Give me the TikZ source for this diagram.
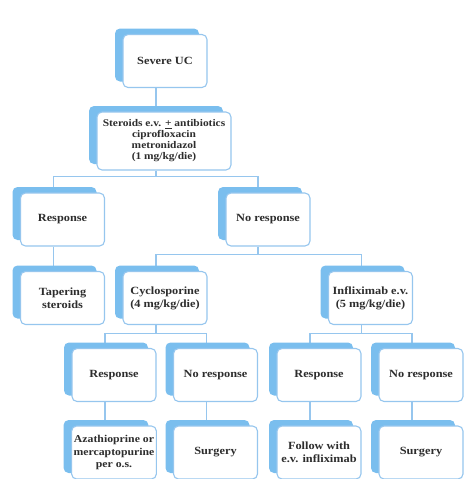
\documentclass[tikz,border=0pt]{standalone}
\usepackage{fontspec}
\setmainfont{Liberation Serif}[FakeStretch=1.12]
\usetikzlibrary{shadows,backgrounds}

\definecolor{ucback}{RGB}{122,190,238}
\definecolor{ucedge}{RGB}{150,198,238}
\definecolor{uctext}{RGB}{45,45,45}

\tikzset{
    ucbox/.style={draw=ucedge, line width=1.1pt, fill=white, rounded corners=5pt,
        minimum width=84pt, minimum height=53pt, align=center, inner sep=2pt,
        text=uctext, font=\bfseries\fontsize{11}{13}\selectfont,
        copy shadow={shadow xshift=-8pt, shadow yshift=6pt, fill=ucback, draw=none}},
    uclink/.style={draw=ucedge, line width=1.1pt}
}

\begin{document}
\begin{tikzpicture}[x=1pt, y=-1pt]
    % Frame
    \useasboundingbox (0,0) rectangle (474,479);
    \clip (0,0) rectangle (474,479);

    % Top
    \node[ucbox] (severe) at (165,61) {Severe UC};
    \node[ucbox, minimum width=134pt, minimum height=58pt, font=\bfseries\fontsize{10.2}{11}\selectfont] (steroids) at (164,141)
        {Steroids e.v. \underline{+} antibiotics\\ ciprofloxacin\\ metronidazol\\ (1 mg/kg/die)};

    % First answer
    \node[ucbox] (resp) at (62.5,219.5) {Response};
    \node[ucbox] (noresp) at (268,219.5) {No response};

    % Second line
    \node[ucbox] (taper) at (62.5,298) {Tapering\\ steroids};
    \node[ucbox] (cyclo) at (165,298) {Cyclosporine\\ (4 mg/kg/die)};
    \node[ucbox] (inflix) at (370.5,298) {Infliximab e.v.\\ (5 mg/kg/die)};

    % Answers to cyclosporine and infliximab
    \node[ucbox] (cycresp) at (114,375) {Response};
    \node[ucbox] (cycnoresp) at (215.5,375) {No response};
    \node[ucbox] (infresp) at (319,375) {Response};
    \node[ucbox] (infnoresp) at (421,375) {No response};

    % Last line
    \node[ucbox, font=\bfseries\fontsize{10.5}{12.5}\selectfont] (aza) at (114,452.5) {Azathioprine or\\ mercaptopurine\\ per o.s.};
    \node[ucbox] (surg1) at (215.5,452.5) {Surgery};
    \node[ucbox] (follow) at (319,452.5) {Follow with\\ e.v. infliximab};
    \node[ucbox] (surg2) at (421,452.5) {Surgery};

    % Connecting lines
    \begin{scope}[on background layer]
        \draw[uclink] ([xshift=-9pt]severe.south) -- ([xshift=-9pt]severe.south |- steroids.north);
        \draw[uclink] ([xshift=-8pt]steroids.south) -- ++(0,6) -| ([xshift=-9pt]resp.north);
        \draw[uclink] ([xshift=-8pt]steroids.south) -- ++(0,6) -| ([xshift=-10pt]noresp.north);

        \draw[uclink] ([xshift=-9pt]resp.south) -- ([xshift=-9pt]taper.north);

        \draw[uclink] ([xshift=-10pt]noresp.south) -- ++(0,8) -| ([xshift=-9pt]cyclo.north);
        \draw[uclink] ([xshift=-10pt]noresp.south) -- ++(0,8) -| ([xshift=-9pt]inflix.north);

        \draw[uclink] ([xshift=-9pt]cyclo.south) -- ++(0,8) -| ([xshift=-9pt]cycresp.north);
        \draw[uclink] ([xshift=-9pt]cyclo.south) -- ++(0,8) -| ([xshift=-9pt]cycnoresp.north);
        \draw[uclink] ([xshift=-9pt]inflix.south) -- ++(0,8) -| ([xshift=-9pt]infresp.north);
        \draw[uclink] ([xshift=-9pt]inflix.south) -- ++(0,8) -| ([xshift=-9pt]infnoresp.north);

        \draw[uclink] ([xshift=-9pt]cycresp.south) -- ([xshift=-9pt]aza.north);
        \draw[uclink] ([xshift=-9pt]cycnoresp.south) -- ([xshift=-9pt]surg1.north);
        \draw[uclink] ([xshift=-9pt]infresp.south) -- ([xshift=-9pt]follow.north);
        \draw[uclink] ([xshift=-9pt]infnoresp.south) -- ([xshift=-9pt]surg2.north);
    \end{scope}
\end{tikzpicture}
\end{document}
